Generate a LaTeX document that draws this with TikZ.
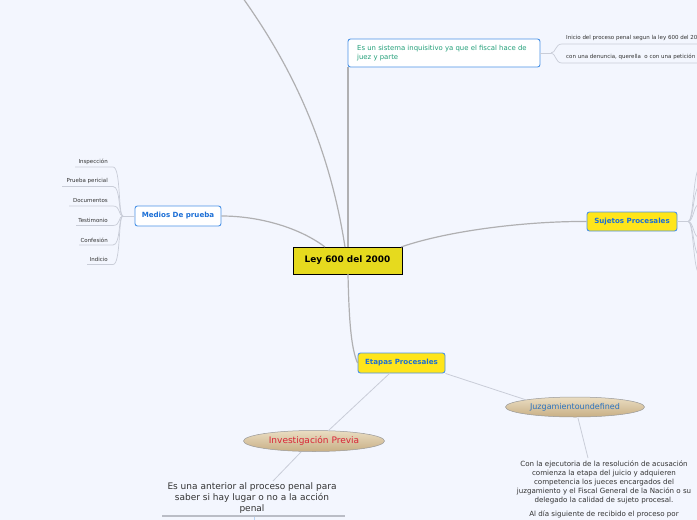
\documentclass[tikz,border=0pt]{standalone}
\usepackage{fontspec}
\setmainfont{DejaVu Sans}
\usetikzlibrary{shapes.geometric}
\definecolor{bg}{HTML}{F3F6FE}
\definecolor{mainline}{HTML}{B0B0B2}
\definecolor{thinline}{HTML}{C9CDD8}
\definecolor{bblue}{HTML}{4A92E6}
\definecolor{tblue}{HTML}{1C6FD6}
\definecolor{tgreen}{HTML}{24A07A}
\definecolor{cyellow}{HTML}{E6DA1E}
\definecolor{syellow}{HTML}{FFE51A}
\definecolor{tred}{HTML}{D92436}
\definecolor{ebl}{HTML}{2A72BE}
\definecolor{gtext}{HTML}{333333}
\definecolor{etop}{HTML}{EADDC2}
\definecolor{ebot}{HTML}{C8AF85}
\tikzset{
  mainconn/.style={draw=mainline, line width=1.2pt},
  thinconn/.style={draw=thinline, line width=0.8pt},
  leafline/.style={draw=thinline, line width=0.7pt},
  topicbox/.style={draw=bblue, line width=0.9pt, rounded corners=2.5pt, font=\bfseries\fontsize{7.1}{8}\selectfont, text=tblue, inner sep=0pt},
  leaftext/.style={font=\fontsize{5.5}{6}\selectfont, text=gtext, inner sep=0pt},
  ellnode/.style={ellipse, draw=gray!80, line width=0.5pt, top color=etop, bottom color=ebot, minimum width=141pt, minimum height=21pt, inner sep=0pt},
  bodytext/.style={align=center, text=gtext, inner sep=0pt},
}
\begin{document}
\begin{tikzpicture}[x=1pt,y=-1pt]
\fill[bg] (0,0) rectangle (697,520);
\useasboundingbox (0,0) rectangle (697,520);

% central node
\node[draw=black, line width=0.9pt, fill=cyellow, minimum width=109pt, minimum height=27pt, inner sep=0pt, font=\bfseries\fontsize{8.9}{10}\selectfont] (c) at (347.5,260.5) {Ley 600 del 2000};

% Es un sistema
\node[topicbox, fill=white, minimum width=192pt, minimum height=28pt] (sis) at (444,53) {};
\node[font=\fontsize{6.9}{9}\selectfont, text=tgreen, align=left, anchor=west, inner sep=0pt] (sist) at (357,53) {Es un sistema inquisitivo ya que el fiscal hace de\\juez y parte};

% Medios
\node[topicbox, fill=white, minimum width=86pt, minimum height=20pt] (med) at (178,216) {Medios De prueba};
% Sujetos
\node[topicbox, fill=syellow, minimum width=90pt, minimum height=19pt] (suj) at (632,221.5) {Sujetos Procesales};
% Etapas
\node[topicbox, fill=syellow, minimum width=87pt, minimum height=20pt] (eta) at (401.5,363) {Etapas Procesales};

% ellipses
\node[ellnode, minimum width=139pt, minimum height=20pt, font=\fontsize{8}{9}\selectfont, text=ebl] (juz) at (575,407) {Juzgamientoundefined};
\node[ellnode, font=\fontsize{9}{10}\selectfont, text=tred] (inv) at (314,441) {Investigación Previa};

% texts
\node[bodytext, font=\fontsize{9}{11}\selectfont] (invt) at (252,498) {Es una anterior al proceso penal para\\saber si hay lugar o no a la acción\\penal};
\node[bodytext, font=\fontsize{7.1}{9}\selectfont, anchor=north] (juzt) at (604,461) {Con la ejecutoria de la resolución de acusación\\comienza la etapa del juicio y adquieren\\competencia los jueces encargados del\\juzgamiento y el Fiscal General de la Nación o su\\delegado la calidad de sujeto procesal.\\[5pt]Al día siguiente de recibido el proceso por};

% coordinates
\coordinate (topend) at (240,-6);
\coordinate (invline1) at (162,516);
\coordinate (invline2) at (345,516);
\coordinate (invdrop) at (254,521);

% main connectors
\draw[mainconn] (345,247) .. controls (330,150) and (295,70) .. (topend);
\draw[mainconn] (348,247) -- (348,67);
\draw[mainconn] (325,247) .. controls (300,228) and (260,216) .. (med.east);
\draw[mainconn] (401,247) .. controls (450,230) and (530,221) .. (suj.west);
\draw[mainconn] (348,274) .. controls (349,320) and (351,348) .. (eta.west);

% thin connectors
\draw[thinconn] (eta.south east) -- (juz.north west);
\draw[thinconn] (390,373) -- (328,431);
\draw[thinconn] (301,452) -- (273,481);
\draw[thinconn] (578,418) -- (588,458);
\draw[draw=thinline!80!gray, line width=1.6pt] (invline1) -- (invline2);
\draw[draw=bblue!40, line width=0.8pt] (invdrop) -- (254,517);

% Es un sistema leaves
\node[leaftext, anchor=west] (l1) at (566,38) {Inicio del proceso penal segun la ley 600 del 2000};
\node[leaftext, anchor=west] (l2) at (566,57) {con una denuncia, querella\ \ o con una petición};
\draw[leafline, line width=1pt] (sis.east) -- (551,53);
\draw[leafline] (551,53) .. controls (556,53) and (555,44) .. (562,44) -- (700,44);
\draw[leafline] (551,53) .. controls (556,53) and (555,63) .. (562,63) -- (700,63);

% Medios leaves
\foreach \t/\y in {Inspección/162, Prueba pericial/181, Documentos/201, Testimonio/220, Confesión/240, Indicio/259}{
  \node[leaftext, anchor=east] at (108,\y) {\t};
}
\draw[leafline, line width=1pt] (med.west) -- (123,216);
\foreach \y/\xl in {167/75, 186.5/62, 206/69, 225.5/76, 245/79, 264.5/87}{
  \draw[leafline] (123,216) .. controls (118,216) and (121,\y) .. (113,\y) -- (\xl,\y);
}

% Sujetos leaves (off canvas)
\draw[leafline, line width=1pt] (suj.east) -- (688,221.5);
\foreach \y in {168,186,204,238,256,274}{
  \draw[leafline] (688,221.5) .. controls (694,221.5) and (693,\y) .. (700,\y);
}
\end{tikzpicture}
\end{document}
